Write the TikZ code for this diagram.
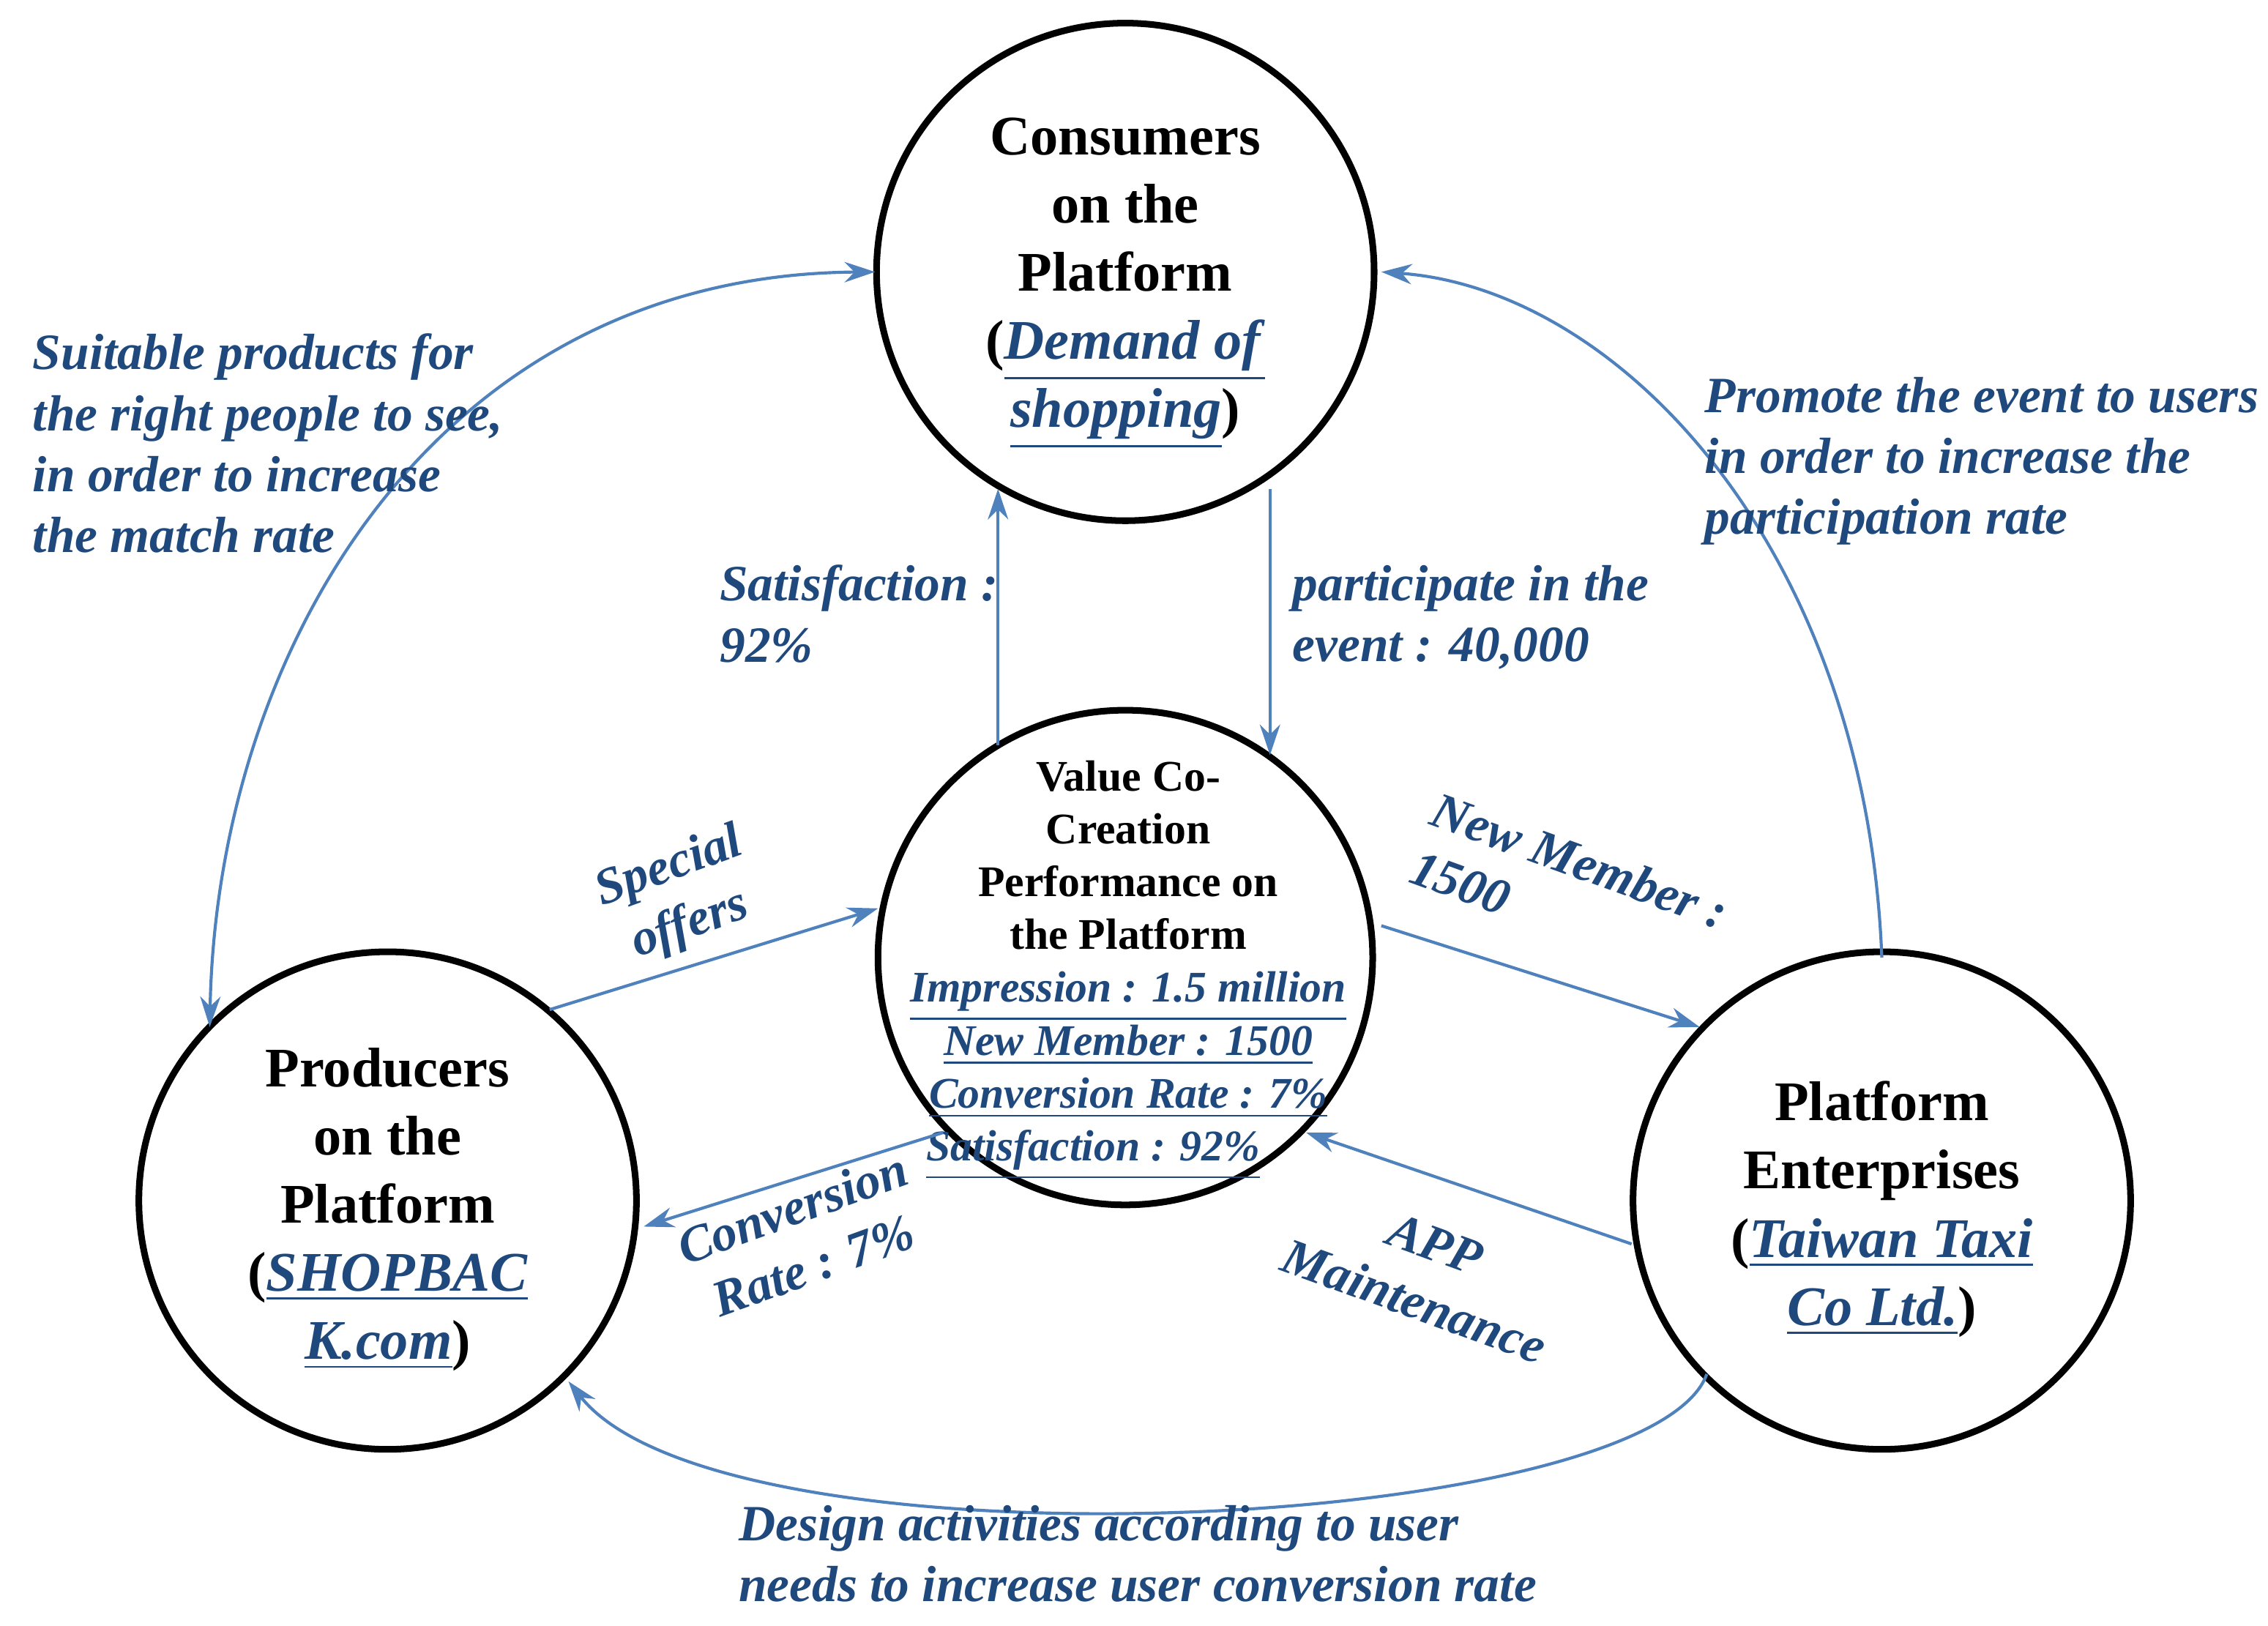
\documentclass[tikz,border=0pt]{standalone}
\usepackage{fontspec}
\setmainfont{Liberation Serif}
\usetikzlibrary{arrows.meta}
\definecolor{lblue}{RGB}{31,73,125}
\definecolor{ablue}{RGB}{79,129,189}
\newcommand{\ul}[1]{\underline{\textit{#1}}}
\begin{document}
\begin{tikzpicture}[x=1cm,y=-1cm,
  actor/.style={circle,draw,line width=1.3pt,minimum size=3.44cm,inner sep=0pt},
  atext/.style={align=center,inner sep=0pt,font=\fontsize{11}{13.4}\selectfont\bfseries},
  lbl/.style={text=lblue,font=\fontsize{10}{12}\selectfont\bfseries\itshape,inner sep=0pt},
  conn/.style={draw=ablue,line width=0.6pt,-{Stealth[length=6pt,width=4pt]}}]
\useasboundingbox (0,0) rectangle (15.68,11.24);

\node[actor] (cons) at (7.78,1.88) {};
\node[atext] (tcons) at (7.78,1.96) {Consumers\\on the\\Platform\\(\textcolor{lblue}{\ul{Demand of}}\\\textcolor{lblue}{\ul{shopping}})};
\node[actor] (prod) at (2.68,8.30) {};
\node[atext] (tprod) at (2.68,8.36) {Producers\\on the\\Platform\\(\textcolor{lblue}{\ul{SHOPBAC}}\\\textcolor{lblue}{\ul{K.com}})};
\node[actor] (plat) at (13.01,8.30) {};
\node[atext] (tplat) at (13.01,8.36) {Platform\\Enterprises\\(\textcolor{lblue}{\ul{Taiwan Taxi}}\\\textcolor{lblue}{\ul{Co Ltd.}})};
\node[actor,minimum size=3.42cm] (cent) at (7.78,6.62) {};
\node[align=center,font=\fontsize{8.6}{10.4}\selectfont\bfseries,inner sep=0pt,anchor=north] (ctext) at (7.80,5.25)
  {Value Co-\\Creation\\Performance on\\the Platform\\
   \textcolor{lblue}{\ul{Impression : 1.5 million}}\\
   \textcolor{lblue}{\ul{New Member : 1500}}\hspace*{1.2em}\\
   \textcolor{lblue}{\ul{Conversion Rate : 7\%}}\\
   \textcolor{lblue}{\ul{Satisfaction : 92\%}}\hspace*{1.6em}};

% straight connectors
\coordinate (c1) at (6.90,5.15);
\coordinate (c2) at (6.90,3.38);
\draw[conn] (c1) -- (c2);
\coordinate (c3) at (8.78,3.38);
\coordinate (c4) at (8.78,5.22);
\draw[conn] (c3) -- (c4);
\coordinate (p1) at (3.80,6.98);
\coordinate (p2) at (6.07,6.28);
\draw[conn] (p1) -- (p2);
\coordinate (p3) at (6.52,7.83);
\coordinate (p4) at (4.45,8.48);
\draw[conn] (p3) -- (p4);
\coordinate (n1) at (9.55,6.40);
\coordinate (n2) at (11.75,7.10);
\draw[conn] (n1) -- (n2);
\coordinate (a1) at (11.28,8.60);
\coordinate (a2) at (9.03,7.83);
\draw[conn] (a1) -- (a2);

% curved connectors
\coordinate (k1) at (6.05,1.88);
\coordinate (k2) at (1.45,7.10);
\draw[conn,{Stealth[length=6pt,width=4pt]}-{Stealth[length=6pt,width=4pt]}] (k1) .. controls (3.0,1.9) and (1.5,4.5) .. (k2);
\coordinate (k3) at (13.01,6.62);
\coordinate (k4) at (9.55,1.88);
\draw[conn] (k3) .. controls (12.9,3.8) and (11.2,2.0) .. (k4);
\coordinate (k5) at (11.80,9.50);
\coordinate (k6) at (3.93,9.55);
\draw[conn] (k5) .. controls (11.4,10.6) and (5.0,10.9) .. (k6);

% labels
\node[lbl,align=left,anchor=north west] (l1) at (0.22,2.30) {Suitable products for\\the right people to see,\\in order to increase\\the match rate};
\node[lbl,align=left,anchor=north west] (l2) at (11.78,2.60) {Promote the event to users\\in order to increase the\\participation rate};
\node[lbl,align=left,anchor=north west] (l3) at (4.97,3.90) {Satisfaction :\\92\%};
\node[lbl,align=left,anchor=north west] (l4) at (8.93,3.90) {participate in the\\event : 40,000};
\node[lbl,align=center,rotate=20] (l5) at (4.70,6.20) {Special\\offers};
\node[lbl,align=left,rotate=-20] (l6) at (10.85,6.15) {New Member :\\1500};
\node[lbl,align=center,rotate=20] (l7) at (5.55,8.55) {Conversion\\Rate : 7\%};
\node[lbl,align=center,rotate=-20] (l8) at (9.85,8.80) {APP\\Maintenance};
\node[lbl,align=left,anchor=north west] (l9) at (5.10,10.40) {Design activities according to user\\needs to increase user conversion rate};
\end{tikzpicture}
\end{document}
